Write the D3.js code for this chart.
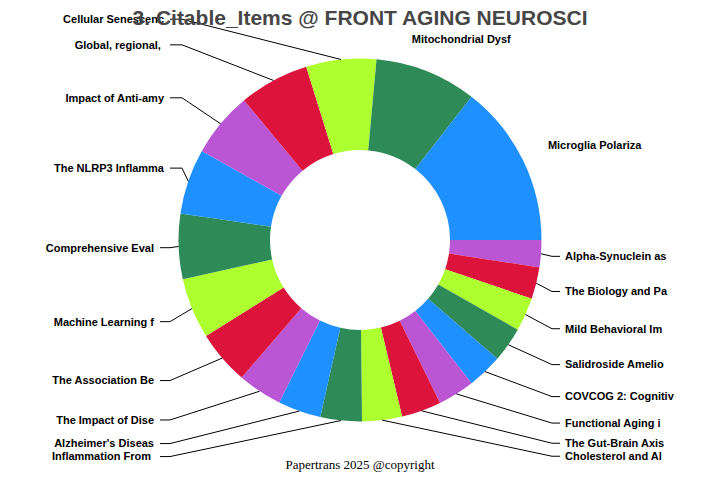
<!DOCTYPE html>
<html>
<head>
<meta charset="utf-8">
<script src="https://cdn.jsdelivr.net/npm/d3@7.9.0/dist/d3.min.js"></script>
<style>
  body { margin: 0; background: #fff; }
  svg { display: block; }
  .lbl { font-family: "Liberation Sans", Arial, sans-serif; font-size: 11px; font-weight: bold; fill: #000; white-space: pre; }
</style>
</head>
<body>
<svg id="chart" width="720" height="480"></svg>
<script>
// article titles (truncated as shown), drawn clockwise from 3 o'clock
const titles = [
  "Alpha-Synuclein as", "The Biology and Pa", "Mild Behavioral Im", "Salidroside Amelio",
  "COVCOG 2: Cognitiv", "Functional Aging i", "The Gut-Brain Axis", "Cholesterol and Al",
  "Inflammation From ", "Alzheimer's Diseas", "The Impact of Dise", "The Association Be",
  "Machine Learning f", "Comprehensive Eval", "The NLRP3 Inflamma", "Impact of Anti-amy",
  "Global, regional, ", "Cellular Senescenc", "Mitochondrial Dysf", "Microglia Polariza"
];
// citable item counts
const counts = [17, 20, 21, 22, 22, 23, 25, 25, 26, 27, 28, 34, 38, 41, 41, 41, 44, 44, 64, 102];
const palette = ["#BA55D3", "#DC143C", "#ADFF2F", "#2E8B57", "#1E90FF"];

const width = 720, height = 480;
const cx = 360, cy = 240;
const rOuter = 181.5, rInner = 90;

const svg = d3.select('#chart');
const g = svg.append('g').attr('transform', `translate(${cx},${cy})`);

const data = titles.map((t, i) => ({ label: t, value: counts[i] }));

// start at 3 o'clock, go clockwise
const pie = d3.pie().sort(null).value(d => d.value)
  .startAngle(Math.PI / 2).endAngle(Math.PI / 2 + 2 * Math.PI);
const arcs = pie(data);
const arcGen = d3.arc().innerRadius(rInner).outerRadius(rOuter);

g.selectAll('path.slice')
  .data(arcs)
  .join('path')
  .attr('class', 'slice')
  .attr('d', arcGen)
  .attr('fill', (d, i) => palette[i % palette.length]);

// per-zone label settings (x offsets from centre, label radius)
const zones = {
  ur: { r: 216 },
  lr: { r: 216, bend: 192, end: 200, text: 205 },
  ll: { r: 216, bend: -190, end: -200, text: -206 },
  ul: { r: 222, bend: -178, end: -190, text: -196 }
};

const items = arcs.map(d => {
  const mid = ((d.startAngle + d.endAngle) / 2) % (2 * Math.PI);
  const s = Math.sin(mid), c = Math.cos(mid);
  let zone;
  if (s >= 0 && c > 0) zone = 'ur';        // upper right: no leader line
  else if (s >= 0) zone = 'lr';
  else if (c <= 0) zone = 'll';
  else zone = 'ul';
  return {
    label: d.data.label, s, c, zone,
    y: -zones[zone].r * c,
    px: rOuter * s, py: -rOuter * c
  };
});

// push overlapping labels apart on each side
function spread(list) {
  list.sort((a, b) => a.y - b.y);
  for (let i = 1; i < list.length; i++) {
    if (list[i].y - list[i - 1].y < 13) list[i].y = list[i - 1].y + 13;
  }
}
spread(items.filter(d => d.zone === 'lr' || d.zone === 'ur'));
spread(items.filter(d => d.zone === 'll' || d.zone === 'ul'));

items.forEach(d => {
  const p = zones[d.zone];
  if (d.zone === 'ur') {
    d.tx = p.r * d.s - 32 * d.c * d.c;
    d.anchor = 'start';
    return;
  }
  d.tx = p.text;
  d.anchor = d.zone === 'lr' ? 'start' : 'end';
  d.line = [[d.px, d.py], [p.bend, d.y], [p.end, d.y]];
});

const line = d3.line();
g.selectAll('path.leader')
  .data(items.filter(d => d.line))
  .join('path')
  .attr('class', 'leader')
  .attr('d', d => line(d.line))
  .attr('fill', 'none')
  .attr('stroke', '#000')
  .attr('stroke-width', 1);

g.selectAll('text.lbl')
  .data(items)
  .join('text')
  .attr('class', 'lbl')
  .attr('x', d => d.tx)
  .attr('y', d => d.y)
  .attr('dy', '0.35em')
  .attr('text-anchor', d => d.anchor)
  .text(d => d.label);

// title (drawn over labels, as in the original)
svg.append('text')
  .attr('x', width / 2)
  .attr('y', 25)
  .attr('text-anchor', 'middle')
  .style('font-family', '"Liberation Sans", Arial, sans-serif')
  .style('font-size', '21px')
  .style('font-weight', 'bold')
  .style('fill', '#464646')
  .text('3. Citable_Items @ FRONT AGING NEUROSCI');

svg.append('text')
  .attr('x', width / 2)
  .attr('y', 469)
  .attr('text-anchor', 'middle')
  .style('font-family', '"Liberation Serif", "Times New Roman", serif')
  .style('font-size', '13px')
  .style('fill', '#000')
  .text('Papertrans 2025 @copyright');
</script>
</body>
</html>
